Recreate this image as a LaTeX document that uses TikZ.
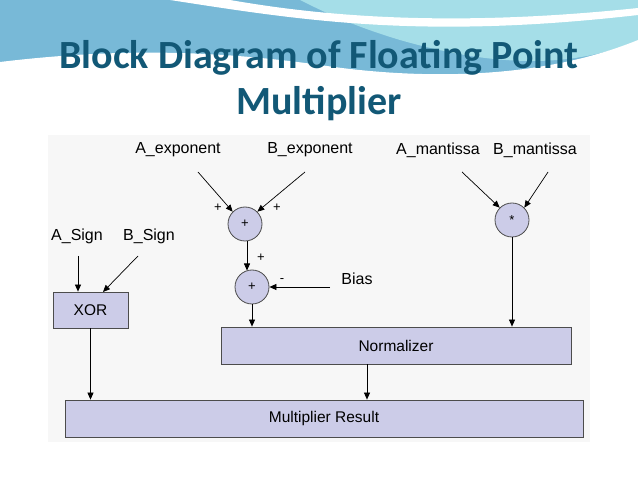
\documentclass[tikz,border=0pt]{standalone}
\usepackage{fontspec}
\setmainfont{Liberation Sans}
\newfontfamily\titlefont{Carlito}
\usetikzlibrary{arrows.meta}
\definecolor{boxfill}{RGB}{204,204,232}
\definecolor{titlec}{RGB}{18,88,118}
\definecolor{wave1}{RGB}{120,185,215}
\definecolor{wave2}{RGB}{165,222,232}
\begin{document}
\begin{tikzpicture}[x=1pt,y=-1pt,
  blk/.style={draw=black!70,fill=boxfill,line width=0.8pt,font=\fontsize{15.5}{18}\selectfont},
  sumc/.style={circle,draw=black!70,fill=boxfill,line width=0.8pt,minimum size=34pt,inner sep=0pt,font=\fontsize{13}{15}\selectfont},
  lbl/.style={font=\fontsize{16}{18}\selectfont,inner sep=1pt},
  sgn/.style={font=\fontsize{13}{15}\selectfont,inner sep=0pt},
  arr/.style={-{Triangle[length=7pt,width=6pt]},line width=0.7pt}]
\useasboundingbox (0,0) rectangle (638,478);
\fill[white] (0,0) rectangle (638,478);
% waves
\fill[wave1] (0,0) -- (638,0) -- (638,45) .. controls (520,100) and (380,70) .. (240,60) .. controls (140,55) and (60,60) .. (0,62) -- cycle;
\fill[wave2] (300,0) -- (638,0) -- (638,40) .. controls (560,75) and (470,60) .. (400,40) .. controls (350,25) and (320,10) .. (300,0) -- cycle;
\fill[white] (170,0) .. controls (300,20) and (420,40) .. (638,15) -- (638,8) .. controls (430,30) and (300,12) .. (230,0) -- cycle;
\fill[white] (0,62) .. controls (100,50) and (200,48) .. (320,65) .. controls (420,80) and (540,80) .. (638,40) -- (638,60) .. controls (540,100) and (400,100) .. (300,90) -- (0,90) -- cycle;
% panel
\fill[black!3] (48,135) rectangle (590,442);
% title
\node[text=titlec,font=\titlefont\bfseries\fontsize{40}{46}\selectfont] (t1) at (319,58) {Block Diagram of Floating Point};
\node[text=titlec,font=\titlefont\bfseries\fontsize{40}{46}\selectfont] (t2) at (319,104) {Multiplier};
% labels
\node[lbl] (ae) at (178,150) {A\_exponent};
\node[lbl] (be) at (310,150) {B\_exponent};
\node[lbl] (am) at (438,150) {A\_mantissa};
\node[lbl] (bm) at (535,150) {B\_mantissa};
\node[lbl] (as) at (77,236) {A\_Sign};
\node[lbl] (bs) at (149,236) {B\_Sign};
\node[lbl] (bias) at (357,279) {Bias};
% nodes
\node[sumc] (s1) at (245,224) {+};
\node[sumc] (s2) at (252,287) {+};
\node[sumc] (m) at (512,220) {*};
\node[blk,minimum width=75pt,minimum height=36pt] (xor) at (90.5,310) {XOR};
\node[blk,minimum width=350pt,minimum height=37pt] (norm) at (396,345.5) {Normalizer};
\node[blk,minimum width=518pt,minimum height=37pt] (res) at (324,418.5) {Multiplier Result};
% coordinates
\coordinate (ae1) at (198,172);
\coordinate (be1) at (305,172);
\coordinate (am1) at (462,172);
\coordinate (bm1) at (548,172);
\coordinate (as1) at (78,256);
\coordinate (bs1) at (138,256);
\coordinate (bias1) at (330,287);
\coordinate (s1b) at (247,241);
\coordinate (s2t) at (247,270.5);
\coordinate (xin) at (103,292);
% arrows
\draw[arr] (ae1) -- (s1.north west);
\draw[arr] (be1) -- (s1.north east);
\draw[arr] (am1) -- (m.north west);
\draw[arr] (bm1) -- (m.north east);
\draw[arr] (s1b) -- (s2t);
\draw[arr] (bias1) -- (s2.east);
\draw[arr] (s2.south) -- (s2.south |- norm.north);
\draw[arr] (m.south) -- (m.south |- norm.north);
\draw[arr] (as1) -- (as1 |- xor.north);
\draw[arr] (bs1) -- (xin);
\draw[arr] (xor.south) -- (xor.south |- res.north);
\draw[arr] (norm.south -| res.north) ++(43,0) coordinate (nb) -- (nb |- res.north);
% signs
\node[sgn] (p1) at (218,208) {+};
\node[sgn] (p2) at (277,208) {+};
\node[sgn] (p3) at (261,258) {+};
\node[sgn] (p4) at (282,281) {-};
\end{tikzpicture}
\end{document}
